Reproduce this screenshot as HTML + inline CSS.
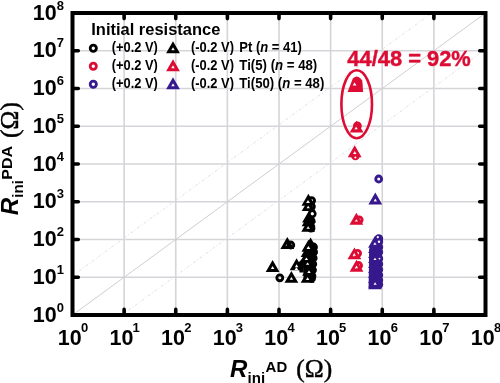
<!DOCTYPE html><html><head><meta charset="utf-8"><style>html,body{margin:0;padding:0;background:#fff;width:500px;height:383px;overflow:hidden}svg{display:block}text{font-family:"Liberation Sans",Arial,sans-serif}</style></head><body>
<svg width="500" height="383" viewBox="0 0 500 383">
<path d="M124.12 13V315 M72.5 277.25H485.5 M175.75 13V315 M72.5 239.50H485.5 M227.38 13V315 M72.5 201.75H485.5 M279.00 13V315 M72.5 164.00H485.5 M330.62 13V315 M72.5 126.25H485.5 M382.25 13V315 M72.5 88.50H485.5 M433.88 13V315 M72.5 50.75H485.5" stroke="#d5d5d9" stroke-width="1.6" fill="none"/>
<path d="M72.5 315L485.5 13" stroke="#cfcfd2" stroke-width="1" fill="none"/>
<path d="M72.5 275.75L431.82 13M122.07 315L485.5 49.25" stroke="#dcdce0" stroke-width="0.9" stroke-dasharray="3 2 1 2" fill="none"/>
<path d="M73.5 277.25H78.3 M484.5 277.25H479.7 M124.12 14V18.6 M124.12 314V309.4 M73.5 239.50H78.3 M484.5 239.50H479.7 M175.75 14V18.6 M175.75 314V309.4 M73.5 201.75H78.3 M484.5 201.75H479.7 M227.38 14V18.6 M227.38 314V309.4 M73.5 164.00H78.3 M484.5 164.00H479.7 M279.00 14V18.6 M279.00 314V309.4 M73.5 126.25H78.3 M484.5 126.25H479.7 M330.62 14V18.6 M330.62 314V309.4 M73.5 88.50H78.3 M484.5 88.50H479.7 M382.25 14V18.6 M382.25 314V309.4 M73.5 50.75H78.3 M484.5 50.75H479.7 M433.88 14V18.6 M433.88 314V309.4" stroke="#000" stroke-width="3.6" stroke-linecap="round" fill="none"/>
<rect x="72.5" y="13" width="413" height="302" stroke="#000" stroke-width="4" fill="none"/>
<text x="64" y="321.60" text-anchor="end" font-weight="bold" font-size="21.5">10<tspan font-size="13" dy="-10">0</tspan></text>
<text x="73.00" y="345.3" text-anchor="middle" font-weight="bold" font-size="21.5">10<tspan font-size="13" dy="-13.6" dx="-0.8">0</tspan></text>
<text x="64" y="283.85" text-anchor="end" font-weight="bold" font-size="21.5">10<tspan font-size="13" dy="-10">1</tspan></text>
<text x="124.62" y="345.3" text-anchor="middle" font-weight="bold" font-size="21.5">10<tspan font-size="13" dy="-13.6" dx="-0.8">1</tspan></text>
<text x="64" y="246.10" text-anchor="end" font-weight="bold" font-size="21.5">10<tspan font-size="13" dy="-10">2</tspan></text>
<text x="176.25" y="345.3" text-anchor="middle" font-weight="bold" font-size="21.5">10<tspan font-size="13" dy="-13.6" dx="-0.8">2</tspan></text>
<text x="64" y="208.35" text-anchor="end" font-weight="bold" font-size="21.5">10<tspan font-size="13" dy="-10">3</tspan></text>
<text x="227.88" y="345.3" text-anchor="middle" font-weight="bold" font-size="21.5">10<tspan font-size="13" dy="-13.6" dx="-0.8">3</tspan></text>
<text x="64" y="170.60" text-anchor="end" font-weight="bold" font-size="21.5">10<tspan font-size="13" dy="-10">4</tspan></text>
<text x="279.50" y="345.3" text-anchor="middle" font-weight="bold" font-size="21.5">10<tspan font-size="13" dy="-13.6" dx="-0.8">4</tspan></text>
<text x="64" y="132.85" text-anchor="end" font-weight="bold" font-size="21.5">10<tspan font-size="13" dy="-10">5</tspan></text>
<text x="331.12" y="345.3" text-anchor="middle" font-weight="bold" font-size="21.5">10<tspan font-size="13" dy="-13.6" dx="-0.8">5</tspan></text>
<text x="64" y="95.10" text-anchor="end" font-weight="bold" font-size="21.5">10<tspan font-size="13" dy="-10">6</tspan></text>
<text x="382.75" y="345.3" text-anchor="middle" font-weight="bold" font-size="21.5">10<tspan font-size="13" dy="-13.6" dx="-0.8">6</tspan></text>
<text x="64" y="57.35" text-anchor="end" font-weight="bold" font-size="21.5">10<tspan font-size="13" dy="-10">7</tspan></text>
<text x="434.38" y="345.3" text-anchor="middle" font-weight="bold" font-size="21.5">10<tspan font-size="13" dy="-13.6" dx="-0.8">7</tspan></text>
<text x="64" y="19.60" text-anchor="end" font-weight="bold" font-size="21.5">10<tspan font-size="13" dy="-10">8</tspan></text>
<text x="486.00" y="345.3" text-anchor="middle" font-weight="bold" font-size="21.5">10<tspan font-size="13" dy="-13.6" dx="-0.8">8</tspan></text>
<g transform="translate(231 377.25)"><text x="-1" y="0" font-weight="bold" font-style="italic" font-size="24">R</text><text x="16.5" y="5.3" font-weight="bold" font-size="15.2" textLength="17.6" lengthAdjust="spacingAndGlyphs">ini</text><text x="34.6" y="-5.5" font-weight="bold" font-size="14.5" textLength="21.6" lengthAdjust="spacingAndGlyphs">AD</text><text x="65.3" y="0" style="font-family:'Liberation Serif',serif" font-size="25.5" stroke="#000" stroke-width="0.45">(Ω)</text></g>
<g transform="translate(17.8 214.25) rotate(-90)"><text x="-1" y="0" font-weight="bold" font-style="italic" font-size="24">R</text><text x="16.5" y="5.3" font-weight="bold" font-size="15.2" textLength="17.6" lengthAdjust="spacingAndGlyphs">ini</text><text x="34.6" y="-5.5" font-weight="bold" font-size="14.5" textLength="33.8" lengthAdjust="spacingAndGlyphs">PDA</text><text x="76.3" y="0" style="font-family:'Liberation Serif',serif" font-size="25.5" stroke="#000" stroke-width="0.45">(Ω)</text></g>
<text x="91.3" y="35.2" font-weight="bold" font-size="15.6" textLength="129" lengthAdjust="spacingAndGlyphs">Initial resistance</text>
<circle cx="93.30" cy="48.30" r="3.1" stroke="#000000" stroke-width="2.8" fill="none"/>
<path d="M173.00 44.33L177.30 51.77L168.70 51.77Z" stroke="#000000" stroke-width="3.0" stroke-linejoin="miter" fill="none"/>
<text x="111.8" y="52.30" font-weight="bold" font-size="14" lengthAdjust="spacingAndGlyphs" textLength="46">(+0.2 V)</text>
<text x="191" y="52.30" font-weight="bold" font-size="14" lengthAdjust="spacingAndGlyphs" textLength="43">(-0.2 V)</text>
<text x="239.3" y="52.30" font-weight="bold" font-size="14" lengthAdjust="spacingAndGlyphs" textLength="62.5">Pt (<tspan font-style="italic">n</tspan> = 41)</text>
<circle cx="93.30" cy="66.30" r="3.1" stroke="#dc0c34" stroke-width="2.8" fill="none"/>
<path d="M173.00 62.33L177.30 69.77L168.70 69.77Z" stroke="#dc0c34" stroke-width="3.0" stroke-linejoin="miter" fill="none"/>
<text x="111.8" y="70.30" font-weight="bold" font-size="14" lengthAdjust="spacingAndGlyphs" textLength="46">(+0.2 V)</text>
<text x="191" y="70.30" font-weight="bold" font-size="14" lengthAdjust="spacingAndGlyphs" textLength="43">(-0.2 V)</text>
<text x="239.3" y="70.30" font-weight="bold" font-size="14" lengthAdjust="spacingAndGlyphs" textLength="78">Ti(5) (<tspan font-style="italic">n</tspan> = 48)</text>
<circle cx="93.30" cy="84.30" r="3.1" stroke="#36198c" stroke-width="2.8" fill="none"/>
<path d="M173.00 80.33L177.30 87.77L168.70 87.77Z" stroke="#36198c" stroke-width="3.0" stroke-linejoin="miter" fill="none"/>
<text x="111.8" y="88.30" font-weight="bold" font-size="14" lengthAdjust="spacingAndGlyphs" textLength="46">(+0.2 V)</text>
<text x="191" y="88.30" font-weight="bold" font-size="14" lengthAdjust="spacingAndGlyphs" textLength="43">(-0.2 V)</text>
<text x="239.3" y="88.30" font-weight="bold" font-size="14" lengthAdjust="spacingAndGlyphs" textLength="85">Ti(50) (<tspan font-style="italic">n</tspan> = 48)</text>
<text x="347.3" y="65.5" stroke="#dc0c34" stroke-width="0.4" font-weight="bold" font-size="22" textLength="123.5" lengthAdjust="spacingAndGlyphs" fill="#dc0c34">44/48 = 92%</text>
<ellipse cx="356.7" cy="104.2" rx="15.3" ry="34" stroke="#dc0c34" stroke-width="2.6" fill="none"/>
<path d="M272.60 263.03L276.90 270.47L268.30 270.47Z" stroke="#000000" stroke-width="3.0" stroke-linejoin="miter" fill="none"/>
<circle cx="279.80" cy="277.80" r="2.95" stroke="#000000" stroke-width="2.9" fill="none"/>
<path d="M287.30 240.03L291.60 247.47L283.00 247.47Z" stroke="#000000" stroke-width="3.0" stroke-linejoin="miter" fill="none"/>
<circle cx="290.80" cy="245.00" r="2.95" stroke="#000000" stroke-width="2.9" fill="none"/>
<path d="M291.40 273.93L295.70 281.37L287.10 281.37Z" stroke="#000000" stroke-width="3.0" stroke-linejoin="miter" fill="none"/>
<path d="M308.40 196.83L312.70 204.27L304.10 204.27Z" stroke="#000000" stroke-width="3.0" stroke-linejoin="miter" fill="none"/>
<circle cx="311.60" cy="200.60" r="2.95" stroke="#000000" stroke-width="2.9" fill="none"/>
<path d="M308.60 202.13L312.90 209.57L304.30 209.57Z" stroke="#000000" stroke-width="3.0" stroke-linejoin="miter" fill="none"/>
<circle cx="311.40" cy="206.50" r="2.95" stroke="#000000" stroke-width="2.9" fill="none"/>
<path d="M309.00 213.63L313.30 221.07L304.70 221.07Z" stroke="#000000" stroke-width="3.0" stroke-linejoin="miter" fill="none"/>
<circle cx="312.20" cy="213.80" r="2.95" stroke="#000000" stroke-width="2.9" fill="none"/>
<path d="M308.60 217.33L312.90 224.77L304.30 224.77Z" stroke="#000000" stroke-width="3.0" stroke-linejoin="miter" fill="none"/>
<circle cx="311.20" cy="221.00" r="2.95" stroke="#000000" stroke-width="2.9" fill="none"/>
<path d="M308.20 222.73L312.50 230.17L303.90 230.17Z" stroke="#000000" stroke-width="3.0" stroke-linejoin="miter" fill="none"/>
<circle cx="311.00" cy="228.20" r="2.95" stroke="#000000" stroke-width="2.9" fill="none"/>
<path d="M310.6 241 L314.5 246 L315.5 250 L315.3 262 L315 270 L314.5 278 L313 281.5 L303.5 281.5 L303.5 262 L304.8 250Z" fill="#000000"/>
<path d="M296.60 261.33L300.90 268.77L292.30 268.77Z" stroke="#000000" stroke-width="3.0" stroke-linejoin="miter" fill="none"/>
<path d="M310.60 240.38L314.90 247.82L306.30 247.82Z" stroke="#000000" stroke-width="3.0" stroke-linejoin="miter" fill="none"/>
<circle cx="313.50" cy="247.00" r="2.95" stroke="#000000" stroke-width="2.9" fill="none"/>
<path d="M308.40 242.73L312.70 250.17L304.10 250.17Z" stroke="#000000" stroke-width="3.0" stroke-linejoin="miter" fill="none"/>
<circle cx="313.60" cy="252.00" r="2.95" stroke="#000000" stroke-width="2.9" fill="none"/>
<path d="M307.60 248.03L311.90 255.47L303.30 255.47Z" stroke="#000000" stroke-width="3.0" stroke-linejoin="miter" fill="none"/>
<circle cx="313.20" cy="258.00" r="2.95" stroke="#000000" stroke-width="2.9" fill="none"/>
<path d="M306.40 254.03L310.70 261.47L302.10 261.47Z" stroke="#000000" stroke-width="3.0" stroke-linejoin="miter" fill="none"/>
<circle cx="312.80" cy="264.00" r="2.95" stroke="#000000" stroke-width="2.9" fill="none"/>
<path d="M307.60 258.93L311.90 266.37L303.30 266.37Z" stroke="#000000" stroke-width="3.0" stroke-linejoin="miter" fill="none"/>
<circle cx="312.50" cy="270.00" r="2.95" stroke="#000000" stroke-width="2.9" fill="none"/>
<path d="M309.00 266.93L313.30 274.37L304.70 274.37Z" stroke="#000000" stroke-width="3.0" stroke-linejoin="miter" fill="none"/>
<circle cx="312.00" cy="276.00" r="2.95" stroke="#000000" stroke-width="2.9" fill="none"/>
<path d="M307.60 273.93L311.90 281.37L303.30 281.37Z" stroke="#000000" stroke-width="3.0" stroke-linejoin="miter" fill="none"/>
<circle cx="311.50" cy="278.50" r="2.95" stroke="#000000" stroke-width="2.9" fill="none"/>
<path d="M298.5 262.5 L302.5 258.5 L303.8 258.5 L303.8 272.5 L299.5 272.5Z" fill="#000000"/>
<path d="M308.00 199.90L309.90 202.90L306.10 202.90Z" fill="#fff"/>
<path d="M308.20 205.86L309.80 208.26L306.60 208.26Z" fill="#fff"/>
<path d="M308.20 226.14L309.80 228.74L306.60 228.74Z" fill="#fff"/>
<path d="M308.40 245.90L310.30 248.90L306.50 248.90Z" fill="#fff"/>
<path d="M306.40 257.44L308.10 260.04L304.70 260.04Z" fill="#fff"/>
<path d="M307.60 262.46L309.30 264.86L305.90 264.86Z" fill="#fff"/>
<path d="M309.00 270.34L310.70 272.94L307.30 272.94Z" fill="#fff"/>
<path d="M307.60 277.34L309.30 279.94L305.90 279.94Z" fill="#fff"/>
<path d="M296.40 267.22L298.20 270.02L294.60 270.02Z" fill="#fff"/>
<circle cx="312.30" cy="213.70" r="1.5" fill="#fff"/>
<path d="M347.6 91.9 L352.8 78.5 L354.5 77.2 L356.4 76.6 L358.5 77 L360.6 78.5 L362.2 80.5 L362.6 84 L362.8 88 L363.2 91.9Z" fill="#dc0c34"/>
<path d="M354.60 82.38L356.50 85.58L352.70 85.58Z" fill="#fff"/>
<circle cx="357.40" cy="125.80" r="2.95" stroke="#dc0c34" stroke-width="2.9" fill="none"/>
<path d="M356.60 123.63L360.90 131.07L352.30 131.07Z" stroke="#dc0c34" stroke-width="3.0" stroke-linejoin="miter" fill="none"/>
<circle cx="355.40" cy="155.90" r="2.8" stroke="#dc0c34" stroke-width="2.9" fill="none"/>
<path d="M354.70 148.23L359.00 155.67L350.40 155.67Z" stroke="#dc0c34" stroke-width="3.0" stroke-linejoin="miter" fill="none"/>
<circle cx="359.20" cy="219.80" r="2.95" stroke="#dc0c34" stroke-width="2.9" fill="none"/>
<path d="M356.40 215.83L360.70 223.27L352.10 223.27Z" stroke="#dc0c34" stroke-width="3.0" stroke-linejoin="miter" fill="none"/>
<circle cx="357.60" cy="253.30" r="2.95" stroke="#dc0c34" stroke-width="2.9" fill="none"/>
<path d="M354.40 250.43L358.70 257.87L350.10 257.87Z" stroke="#dc0c34" stroke-width="3.0" stroke-linejoin="miter" fill="none"/>
<circle cx="358.60" cy="265.50" r="2.95" stroke="#dc0c34" stroke-width="2.9" fill="none"/>
<path d="M356.50 262.83L360.80 270.27L352.20 270.27Z" stroke="#dc0c34" stroke-width="3.0" stroke-linejoin="miter" fill="none"/>
<path d="M356.40 219.16L357.90 221.56L354.90 221.56Z" fill="#fff"/>
<path d="M354.30 253.04L355.90 255.64L352.70 255.64Z" fill="#fff"/>
<path d="M356.50 265.54L358.10 268.14L354.90 268.14Z" fill="#fff"/>
<path d="M356.10 126.74L357.80 129.34L354.40 129.34Z" fill="#fff"/>
<path d="M354.80 151.22L356.50 154.02L353.10 154.02Z" fill="#fff"/>
<circle cx="355.40" cy="157.40" r="1.0" fill="#fff"/>
<circle cx="378.70" cy="179.00" r="2.95" stroke="#36198c" stroke-width="2.9" fill="none"/>
<path d="M375.30 195.53L379.60 202.97L371.00 202.97Z" stroke="#36198c" stroke-width="3.0" stroke-linejoin="miter" fill="none"/>
<path d="M375 237 L381 236 L382 240 L382 286 L381 288.5 L369.5 288.6 L368.6 287 L368.9 270 L369.1 249 L372 243Z" fill="#36198c"/>
<path d="M375.00 238.83L379.30 246.27L370.70 246.27Z" stroke="#36198c" stroke-width="3.0" stroke-linejoin="miter" fill="none"/>
<path d="M375.00 244.03L379.30 251.47L370.70 251.47Z" stroke="#36198c" stroke-width="3.0" stroke-linejoin="miter" fill="none"/>
<path d="M375.00 249.03L379.30 256.47L370.70 256.47Z" stroke="#36198c" stroke-width="3.0" stroke-linejoin="miter" fill="none"/>
<path d="M375.00 254.13L379.30 261.57L370.70 261.57Z" stroke="#36198c" stroke-width="3.0" stroke-linejoin="miter" fill="none"/>
<path d="M375.00 259.03L379.30 266.47L370.70 266.47Z" stroke="#36198c" stroke-width="3.0" stroke-linejoin="miter" fill="none"/>
<path d="M375.00 264.03L379.30 271.47L370.70 271.47Z" stroke="#36198c" stroke-width="3.0" stroke-linejoin="miter" fill="none"/>
<path d="M375.00 269.03L379.30 276.47L370.70 276.47Z" stroke="#36198c" stroke-width="3.0" stroke-linejoin="miter" fill="none"/>
<path d="M375.00 274.03L379.30 281.47L370.70 281.47Z" stroke="#36198c" stroke-width="3.0" stroke-linejoin="miter" fill="none"/>
<path d="M375.00 278.73L379.30 286.17L370.70 286.17Z" stroke="#36198c" stroke-width="3.0" stroke-linejoin="miter" fill="none"/>
<path d="M375.00 280.33L379.30 287.77L370.70 287.77Z" stroke="#36198c" stroke-width="3.0" stroke-linejoin="miter" fill="none"/>
<circle cx="378.80" cy="238.60" r="2.95" stroke="#36198c" stroke-width="2.9" fill="none"/>
<circle cx="378.80" cy="241.70" r="2.95" stroke="#36198c" stroke-width="2.9" fill="none"/>
<circle cx="378.80" cy="247.00" r="2.95" stroke="#36198c" stroke-width="2.9" fill="none"/>
<circle cx="378.80" cy="252.00" r="2.95" stroke="#36198c" stroke-width="2.9" fill="none"/>
<circle cx="378.80" cy="258.60" r="2.95" stroke="#36198c" stroke-width="2.9" fill="none"/>
<circle cx="378.80" cy="264.00" r="2.95" stroke="#36198c" stroke-width="2.9" fill="none"/>
<circle cx="378.80" cy="269.50" r="2.95" stroke="#36198c" stroke-width="2.9" fill="none"/>
<circle cx="378.80" cy="275.00" r="2.95" stroke="#36198c" stroke-width="2.9" fill="none"/>
<circle cx="378.80" cy="280.00" r="2.95" stroke="#36198c" stroke-width="2.9" fill="none"/>
<circle cx="378.80" cy="284.40" r="2.95" stroke="#36198c" stroke-width="2.9" fill="none"/>
<circle cx="374.30" cy="284.40" r="2.95" stroke="#36198c" stroke-width="2.9" fill="none"/>
<circle cx="377.80" cy="237.20" r="1.1" fill="#fff"/>
<path d="M374.90 242.24L376.50 244.84L373.30 244.84Z" fill="#fff"/>
<circle cx="379.00" cy="241.70" r="1.2" fill="#fff"/>
<path d="M375.00 257.66L376.50 260.06L373.50 260.06Z" fill="#fff"/>
<circle cx="379.50" cy="258.60" r="0.9" fill="#fff"/>
<path d="M375.10 282.14L376.70 284.74L373.50 284.74Z" fill="#fff"/>
</svg></body></html>
